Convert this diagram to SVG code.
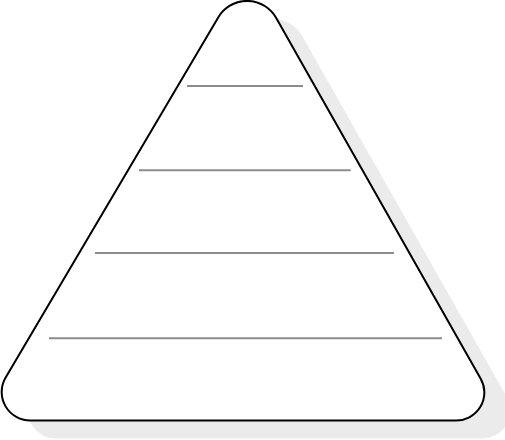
<svg xmlns="http://www.w3.org/2000/svg" width="505" height="440" viewBox="0 0 505 440">
<style>
.outline{fill:#ffffff;stroke:#000000;stroke-width:2;stroke-linejoin:round}
.shadow{fill:#ebebeb;stroke:none}
.tier{stroke:#8c8c8c;stroke-width:2;fill:none}
</style>
<defs>
<path id="tri" d="M 218.2,17.4 A 33.5 33.5 0 0 1 276.2,17.9 L 480.7,378.7 A 28 28 0 0 1 456.3,420.5 L 30.2,420.5 A 28.5 28.5 0 0 1 5.66,377.5 Z"/>
</defs>
<rect width="505" height="440" fill="#ffffff"/>
<g id="pyramid">
<use href="#tri" class="shadow" transform="translate(26,18)"/>
<use href="#tri" class="outline"/>
</g>
<g id="tiers">
<line class="tier" x1="187" y1="86" x2="303" y2="86"/>
<line class="tier" x1="139" y1="170.3" x2="350.7" y2="170.3"/>
<line class="tier" x1="95" y1="253" x2="394" y2="253"/>
<line class="tier" x1="49" y1="338.3" x2="442" y2="338.3"/>
</g>
</svg>
